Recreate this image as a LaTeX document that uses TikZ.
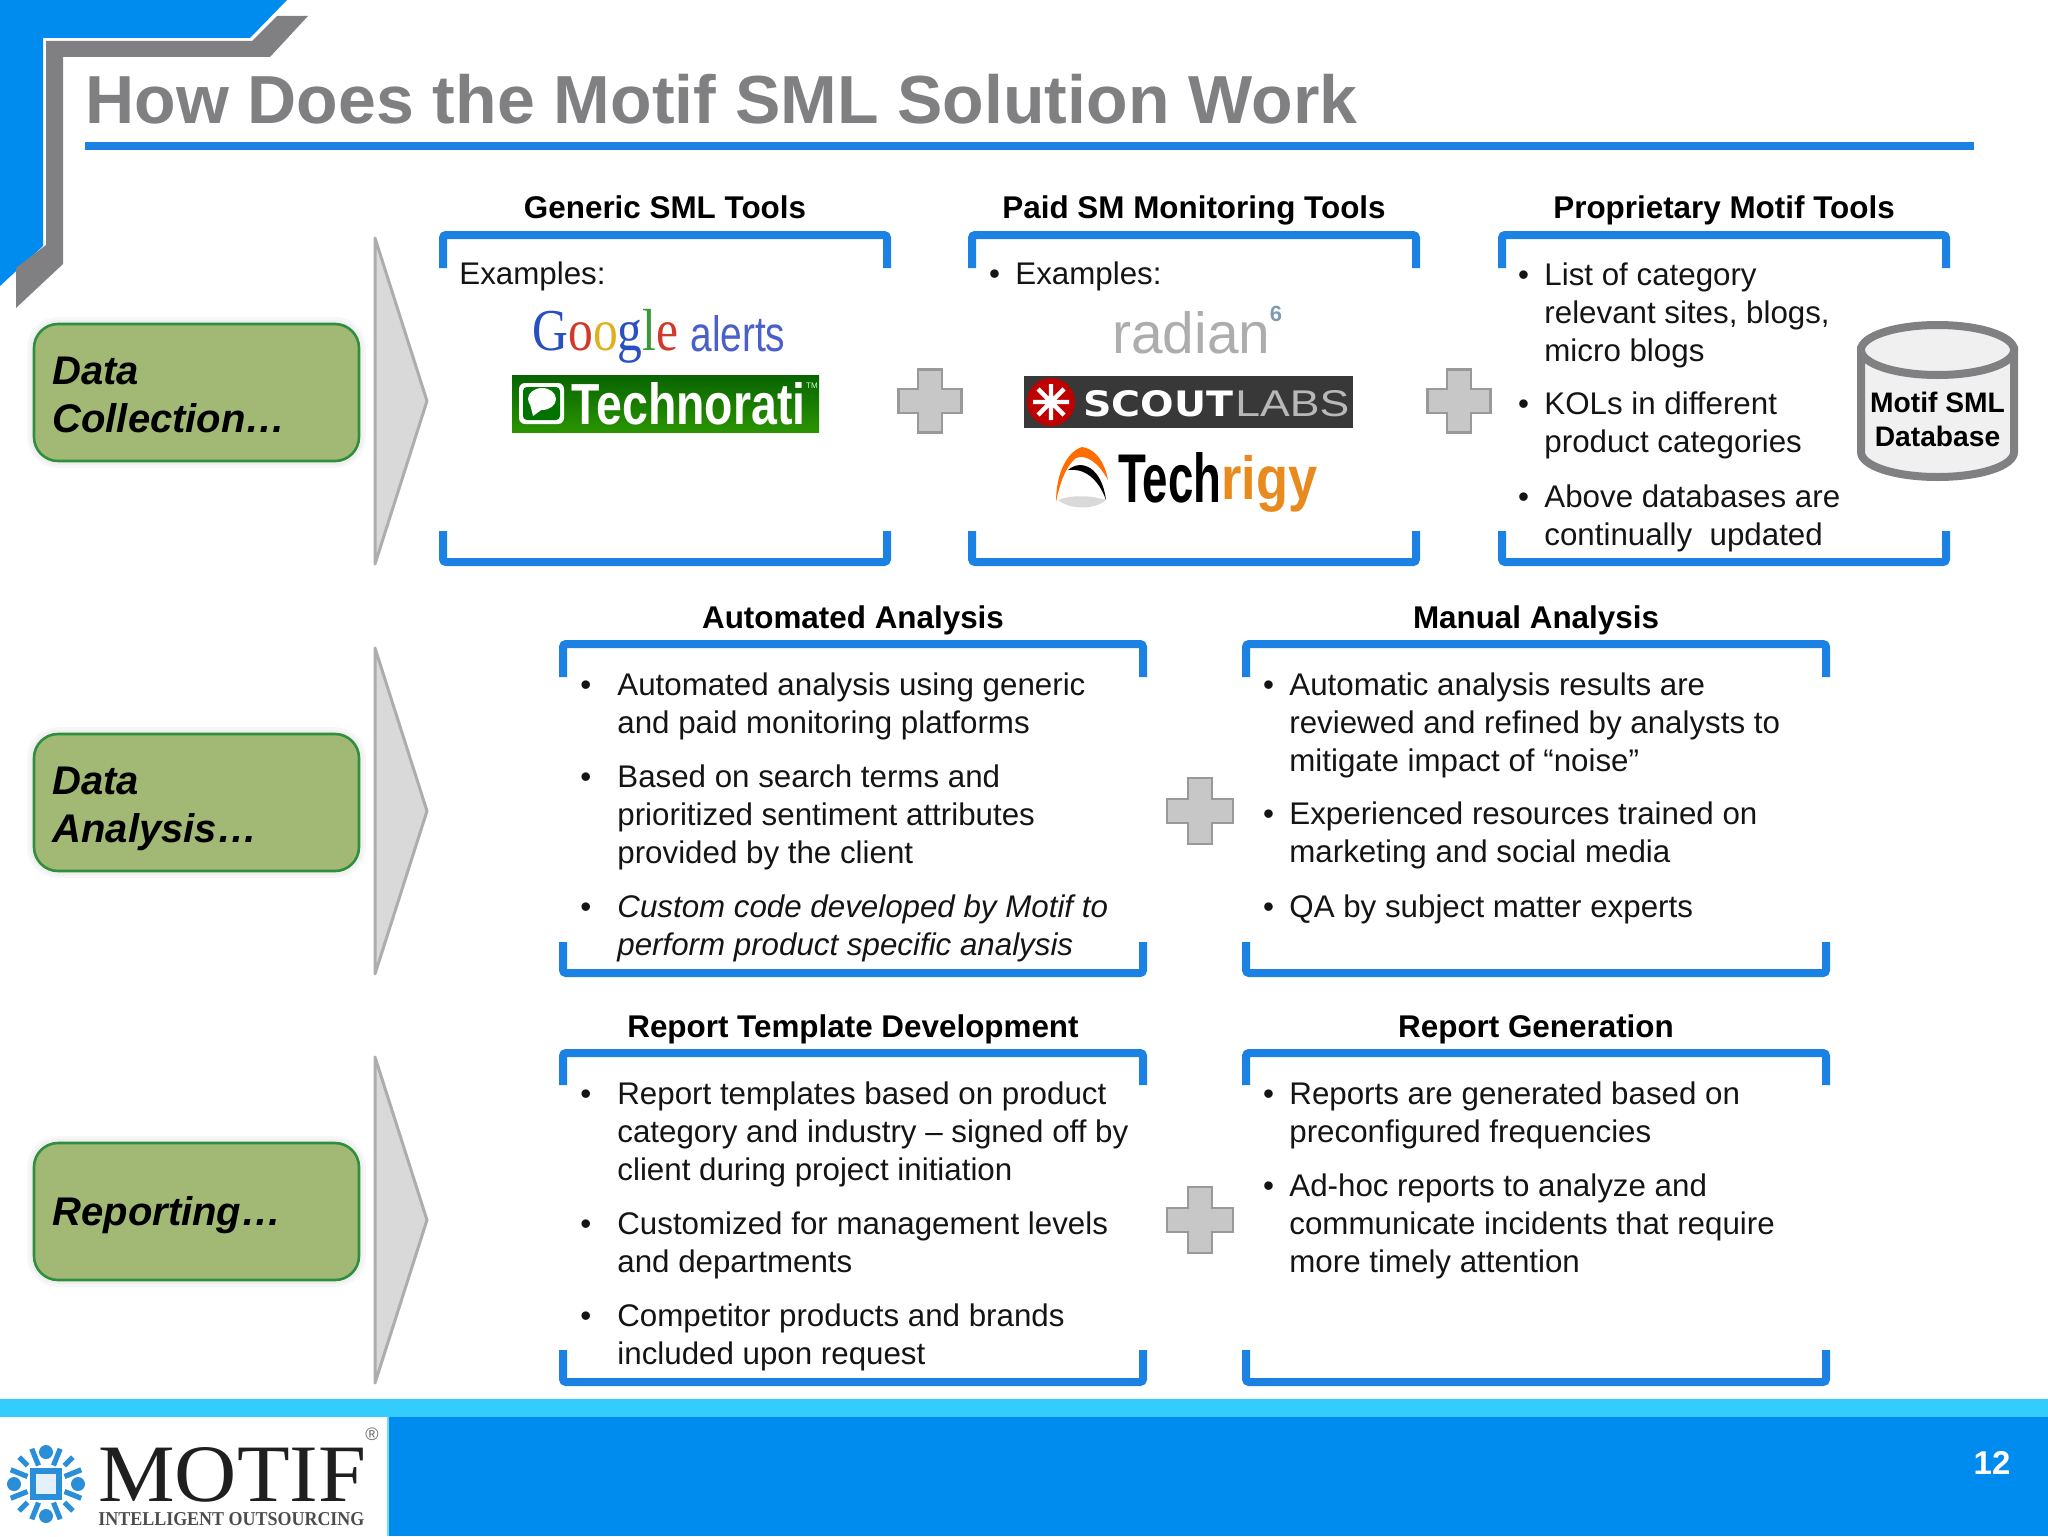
\documentclass[tikz,border=0pt]{standalone}
\usepackage{graphicx}
\usepackage{fontspec}
\setmainfont{Liberation Sans}
\newfontfamily\logoserif{Liberation Serif}
\newfontfamily\logowide{DejaVu Sans}
\usetikzlibrary{calc}
\definecolor{motifBlue}{HTML}{008BEE}
\definecolor{ruleBlue}{HTML}{1B81E2}
\definecolor{bandCyan}{HTML}{33CCFF}
\definecolor{titleGrey}{HTML}{808083}
\definecolor{boxGreen}{HTML}{A2B976}
\definecolor{boxEdge}{HTML}{2F8F3F}
\definecolor{wheelBlue}{HTML}{2A8FD8}
\tikzstyle{titleText}=[anchor=base west, inner sep=0pt, text=titleGrey, font=\fontsize{34}{40}\selectfont\bfseries]
\tikzstyle{headText}=[anchor=base, inner sep=0pt, font=\fontsize{15.7}{19}\selectfont\bfseries]
\tikzstyle{bodyText}=[anchor=north west, inner sep=0pt, yshift=13.3pt, align=left, text=black!92, font=\fontsize{15.65}{19}\selectfont]
\tikzstyle{stepBox}=[rounded corners=12pt, draw=boxEdge, fill=boxGreen, line width=1.3pt, minimum width=162.5pt, minimum height=68.5pt, inner xsep=9pt, text width=144pt, align=left, font=\fontsize{20}{24}\selectfont\bfseries\itshape, preaction={draw=black!3, line width=7pt}, preaction={draw=black!6, line width=4pt}]
\tikzstyle{stepArrow}=[draw=black!32, fill=black!15, line width=1.5pt, line join=round]
\tikzstyle{bracketLine}=[draw=ruleBlue, line width=4pt, rounded corners=1.5pt]
\tikzstyle{plusShape}=[draw=black!40, fill=black!22, line width=1.3pt]
\tikzstyle{logoText}=[anchor=north west, inner sep=0pt]
\newcommand{\itm}{\strut\llap{\textbullet\hspace{13pt}}}
\newcommand{\itmNear}{\strut\llap{\textbullet\hspace{7.7pt}}}
\newcommand{\plusmark}[3]{\draw[plusShape, shift={(#1,#2)}] (-12,-#3) -- (12,-#3) -- (12,-12) -- (#3,-12) -- (#3,12) -- (12,12) -- (12,#3) -- (-12,#3) -- (-12,12) -- (-#3,12) -- (-#3,-12) -- (-12,-12) -- cycle;}
\begin{document}
\begin{tikzpicture}[x=0.5pt, y=-0.5pt]
      \useasboundingbox (0,0) rectangle (2048,1536);
      % corner and title
      \fill[motifBlue] (0,0) -- (287,0) -- (250,38) -- (43,38) -- (43,246) -- (0,286) -- cycle;
      \fill[titleGrey] (46,41) -- (252,41) -- (277,16) -- (308,16) -- (270,57) -- (63,57) -- (63,264) -- (16,308) -- (16,268) -- (46,245) -- cycle;
      \node(title) [titleText] at (85,124){How Does the Motif SML Solution Work};
      \fill[ruleBlue] (85,142) rectangle (1974,150);
      % left column
      \node(collect) [stepBox] at (196.5,392.5){\rule{0pt}{22.8pt}Data\\\strut Collection\ldots};
      \node(analyse) [stepBox] at (196.5,802.5){\rule{0pt}{22.8pt}Data\\\strut Analysis\ldots};
      \node(report) [stepBox] at (196.5,1211.5){\rule{0pt}{20.8pt}\strut Reporting\ldots};
      \draw[stepArrow] (375,238) -- (427,401) -- (375,564) -- cycle;
      \draw[stepArrow] (375,648) -- (427,811) -- (375,974) -- cycle;
      \draw[stepArrow] (375,1057) -- (427,1220) -- (375,1383) -- cycle;
      % brackets
      \draw[bracketLine] (443,268) -- (443,235) -- (887,235) -- (887,268);
      \draw[bracketLine] (443,531) -- (443,562) -- (887,562) -- (887,531);
      \draw[bracketLine] (972,268) -- (972,235) -- (1416,235) -- (1416,268);
      \draw[bracketLine] (972,531) -- (972,562) -- (1416,562) -- (1416,531);
      \draw[bracketLine] (1502,268) -- (1502,235) -- (1946,235) -- (1946,268);
      \draw[bracketLine] (1502,531) -- (1502,562) -- (1946,562) -- (1946,531);
      \draw[bracketLine] (563,677) -- (563,644) -- (1143,644) -- (1143,677);
      \draw[bracketLine] (563,942) -- (563,973) -- (1143,973) -- (1143,942);
      \draw[bracketLine] (1246,677) -- (1246,644) -- (1826,644) -- (1826,677);
      \draw[bracketLine] (1246,942) -- (1246,973) -- (1826,973) -- (1826,942);
      \draw[bracketLine] (563,1085) -- (563,1053) -- (1143,1053) -- (1143,1085);
      \draw[bracketLine] (563,1350) -- (563,1382) -- (1143,1382) -- (1143,1350);
      \draw[bracketLine] (1246,1085) -- (1246,1053) -- (1826,1053) -- (1826,1085);
      \draw[bracketLine] (1246,1350) -- (1246,1382) -- (1826,1382) -- (1826,1350);
      % plus signs
      \plusmark{930}{401}{31.5}
      \plusmark{1459}{401}{31.5}
      \plusmark{1200}{811}{33}
      \plusmark{1200}{1220}{33}
      % headings
      \node(headGeneric) [headText] at (665,218){Generic SML Tools};
      \node(headPaid) [headText] at (1194,218){Paid SM Monitoring Tools};
      \node(headProp) [headText] at (1724,218){Proprietary Motif Tools};
      \node(headAuto) [headText] at (853,628){Automated Analysis};
      \node(headManual) [headText] at (1536,628){Manual Analysis};
      \node(headTemplate) [headText] at (853,1037){Report Template Development};
      \node(headGen) [headText] at (1536,1037){Report Generation};
      % first row text
      \node(exGeneric) [bodyText] at (459,284){\strut Examples:};
      \node(exPaid) [bodyText] at (1015,284){\itmNear Examples:};
      \node(prop1) [bodyText] at (1544,285){\itmNear List of category\\relevant sites, blogs,\\micro blogs};
      \node(prop2) [bodyText] at (1544,414){\itmNear KOLs in different\\product categories};
      \node(prop3) [bodyText] at (1544,507){\itmNear Above databases are\\continually\ \ updated};
      % second row text
      \node(auto1) [bodyText] at (617,695){\itm Automated analysis using generic\\and paid monitoring platforms};
      \node(auto2) [bodyText] at (617,787){\itm Based on search terms and\\prioritized sentiment attributes\\provided by the client};
      \node(auto3) [bodyText] at (617,917){\itm\textit{Custom code developed by Motif to}\\\textit{perform product specific analysis}};
      \node(man1) [bodyText] at (1289,695){\itmNear Automatic analysis results are\\reviewed and refined by analysts to\\mitigate impact of “noise”};
      \node(man2) [bodyText] at (1289,824){\itmNear Experienced resources trained on\\marketing and social media};
      \node(man3) [bodyText] at (1289,917){\itmNear QA by subject matter experts};
      % third row text
      \node(tmp1) [bodyText] at (617,1104){\itm Report templates based on product\\category and industry – signed off by\\client during project initiation};
      \node(tmp2) [bodyText] at (617,1234){\itm Customized for management levels\\and departments};
      \node(tmp3) [bodyText] at (617,1326){\itm Competitor products and brands\\included upon request};
      \node(gen1) [bodyText] at (1289,1104){\itmNear Reports are generated based on\\preconfigured frequencies};
      \node(gen2) [bodyText] at (1289,1196){\itmNear Ad-hoc reports to analyze and\\communicate incidents that require\\more timely attention};
      % database
      \draw[draw=titleGrey, fill=black!6, line width=4pt] (1861,350) -- (1861,452) .. controls (1861,466) and (1895,477) .. (1937.5,477) .. controls (1980,477) and (2014,466) .. (2014,452) -- (2014,350) -- cycle;
      \draw[draw=titleGrey, fill=black!6, line width=4pt] (1937.5,350) ellipse [x radius=76.5, y radius=25];
      \node(dbText) [inner sep=0pt, align=center, font=\fontsize{14.1}{17}\selectfont\bfseries] at (1937.5,419){Motif SML\\Database};
      % google alerts
      \node(google) [logoText] at (532,309){\resizebox*{73pt}{27pt}{\logoserif\textcolor[HTML]{2A4FC0}{G}\textcolor[HTML]{D03A2A}{o}\textcolor[HTML]{E0B020}{o}\textcolor[HTML]{2A4FC0}{g}\textcolor[HTML]{3A9A3A}{l}\textcolor[HTML]{D03A2A}{e}}};
      \node(alerts) [logoText] at (690,315){\resizebox{47.5pt}{18pt}{\textcolor[HTML]{4A60C8}{alerts}}};
      % technorati
      \shade[top color={rgb,255:red,8;green,100;blue,0}, bottom color={rgb,255:red,42;green,148;blue,0}] (512,375) rectangle (819,432);
      \fill[white, rounded corners=3pt] (519,383) rectangle (564,424);
      \fill[green!45!black, rounded corners=2pt] (523,387) rectangle (560,420);
      \fill[white] (542,399) circle [x radius=14, y radius=11];
      \fill[white] (530,404) -- (533,416) -- (544,408) -- cycle;
      \node(technorati) [logoText] at (571,382){\resizebox{117pt}{21pt}{\bfseries\textcolor{white}{Technorati}}};
      \node(tmMark) [inner sep=0pt, text=white!80!green, font=\fontsize{4}{4}\selectfont] at (812,386){TM};
      % radian
      \node(radian) [logoText] at (1112,311){\resizebox{79pt}{21pt}{\textcolor{black!32}{radian}}};
      \node(radianSix) [inner sep=0pt, text={rgb,255:red,127;green,155;blue,176}, font=\fontsize{11}{11}\selectfont\bfseries] at (1276,314){6};
      % scoutlabs
      \fill[black!78] (1024,376) rectangle (1353,428);
      \fill[red!75!black] (1051,402) circle [radius=24];
      \draw[white, line width=2.2pt] (1051,384) -- (1051,420) (1033,402) -- (1069,402) (1038,389) -- (1064,415) (1038,415) -- (1064,389);
      \node(scout) [logoText] at (1083,390){\resizebox{75pt}{13pt}{\logowide\bfseries\textcolor{white}{SCOUT}}};
      \node(labs) [logoText] at (1235,390){\resizebox{57pt}{13pt}{\textcolor{black!28}{LABS}}};
      % techrigy
      \fill[black!15] (1058,500) .. controls (1070,510) and (1095,510) .. (1106,500) .. controls (1090,495) and (1070,495) .. (1058,500) -- cycle;
      \fill[orange!85!red] (1056,502) .. controls (1056,475) and (1066,452) .. (1082,447) .. controls (1092,448) and (1104,458) .. (1108,480) .. controls (1098,462) and (1086,454) .. (1076,458) .. controls (1066,466) and (1060,482) .. (1056,502) -- cycle;
      \fill[black] (1068,470) .. controls (1082,458) and (1102,468) .. (1106,500) .. controls (1098,478) and (1084,468) .. (1068,470) -- cycle;
      \node(tech) [logoText] at (1118,452){\resizebox{51.5pt}{25pt}{\bfseries Tech}};
      \node(rigy) [logoText] at (1221,455){\resizebox*{48pt}{28.5pt}{\bfseries\textcolor[HTML]{E88A1E}{rigy}}};
      % footer
      \fill[bandCyan] (0,1399) rectangle (2048,1417);
      \fill[motifBlue] (388,1417) rectangle (2048,1536);
      \draw[draw=bandCyan!70, line width=1pt] (388,1417) -- (388,1536);
      \node(pageNum) [inner sep=0pt, text=white, font=\fontsize{16.5}{20}\selectfont\bfseries] at (1992,1463){12};
      \begin{scope}[shift={(46,1484)}]
        \fill[wheelBlue!12] (-12,-12) rectangle (12,12);
        \draw[wheelBlue, line width=3pt] (-13,-13) rectangle (13,13);
        \fill[wheelBlue] (0:32) circle [radius=7] (90:32) circle [radius=7] (180:32) circle [radius=7] (270:32) circle [radius=7];
        \draw[wheelBlue, line width=2.6pt] (22:20) -- (22:38) (45:26) -- (45:38) (68:20) -- (68:38) (112:20) -- (112:38) (135:26) -- (135:38) (158:20) -- (158:38) (202:20) -- (202:38) (225:26) -- (225:38) (248:20) -- (248:38) (292:20) -- (292:38) (315:26) -- (315:38) (338:20) -- (338:38);
      \end{scope}
      \node(motif) [logoText] at (98,1447){\resizebox{134pt}{27pt}{\logoserif\textcolor{black!88}{MOTIF}}};
      \node(motifTag) [logoText] at (98,1512){\resizebox{133pt}{6.5pt}{\logoserif\bfseries\textcolor{black!70}{INTELLIGENT OUTSOURCING}}};
      \node(motifReg) [inner sep=0pt, text=black!60, font=\fontsize{9}{9}\selectfont] at (372,1434){®};
\end{tikzpicture}
\end{document}
